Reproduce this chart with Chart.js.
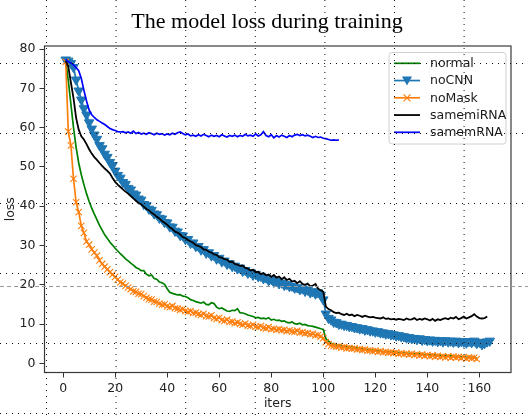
<!DOCTYPE html>
<html>
<head>
<meta charset="utf-8">
<script src="https://cdn.jsdelivr.net/npm/chart.js@4.4.0/dist/chart.umd.min.js"></script>
<style>
html,body{margin:0;padding:0;background:#fff;}
#wrap{width:528px;height:415px;}
</style>
</head>
<body>
<div id="wrap"><canvas id="lossChart" width="528" height="415"></canvas></div>
<script>
// loss per iteration, first value is iteration 1
const normalLoss = [77,72,66,60,55,51,48,45.5,43.2,41.2,39.5,38,36.6,35.1,33.9,32.7,31.8,30.8,30.1,29.3,
  28.6,27.9,27.3,26.6,26.1,25.5,25.0,24.4,24.1,23.6,23.6,22.7,22.3,22.5,21.6,21.4,20.7,20.5,20.1,19.0,
  18.1,17.8,17.6,17.4,17.5,17.1,17.0,16.7,16.2,16.0,15.7,15.5,15.3,15.6,15.0,14.9,15.4,15.2,14.3,13.9,
  14.1,13.7,13.3,13.2,13.5,13.4,13.9,12.9,12.8,12.6,12.3,12.1,11.9,11.6,11.7,11.4,11.5,11.3,11.6,11.0,
  11.2,10.9,11.0,10.7,10.8,10.4,10.3,10.5,10.1,10.0,10.2,9.8,9.9,9.6,9.5,9.4,9.2,9.0,8.8,8.6,
  6.3,5.6,5.1,4.9,4.7,4.6,4.5,4.4,4.3,4.2,4.3,4.0,3.9,3.8,3.7,3.6,3.5,3.5,3.3,3.3,
  3.2,3.1,3.0,3.0,2.9,2.8,2.9,2.7,2.7,2.6,2.6,2.5,2.5,2.4,2.4,2.3,2.4,2.3,2.2,2.2,
  2.1,2.2,2.1,2.0,2.0,1.9,2.0,1.8,1.9,1.8,1.7,1.8,1.6,1.7,1.5,1.6,1.5,1.4,1.3];

const noCNNLoss = [77.3,77.0,76.4,75.4,72.2,69.4,67.1,64.9,63.3,61.3,59.7,58.2,57.1,55.5,54.7,53.3,52.5,51.2,50.4,49.0,
  47.9,47.2,46.1,45.6,44.6,44.2,43.2,42.9,41.9,41.6,40.5,40.2,39.3,39.0,38.1,37.9,37.0,36.8,35.9,35.8,
  34.8,34.7,33.7,33.5,32.6,32.5,31.6,31.6,30.6,30.7,29.8,29.8,28.9,29.0,28.1,28.2,27.4,27.5,26.6,26.8,
  25.9,26.1,25.3,25.4,24.7,24.8,24.1,24.3,23.5,23.7,23.0,23.2,22.5,22.7,22.1,22.2,21.6,21.8,21.1,21.4,
  20.7,20.9,20.3,20.5,19.9,20.1,19.6,19.7,19.2,19.3,18.8,19.0,18.4,18.7,18.0,18.3,17.7,18.0,17.4,16.2,
  12.6,11.5,11.1,10.5,10.4,10.0,10.0,9.7,9.7,9.4,9.4,9.1,9.1,8.8,8.9,8.5,8.6,8.3,8.3,8.0,
  8.1,7.8,7.8,7.5,7.6,7.3,7.3,7.0,7.1,6.8,6.8,6.5,6.6,6.3,6.4,6.1,6.3,5.9,6.1,5.8,
  6.0,5.7,5.9,5.6,5.8,5.5,5.8,5.5,5.7,5.4,5.7,5.3,5.6,5.4,5.2,5.6,5.3,5.7,5.1,5.4,
  4.8,5.1,5.5,5.7];

const noMaskLoss = [76.8,59.0,55.5,47.0,41.0,38.5,35.0,33.2,31.0,30.2,29.0,28.2,27.4,26.2,25.3,24.6,23.9,23.2,22.6,22.0,
  21.3,20.6,20.3,19.7,19.3,18.9,18.3,18.2,17.7,17.6,17.1,16.7,16.3,16.2,15.7,15.6,15.2,14.9,15.0,14.5,
  14.3,14.6,14.0,13.9,13.6,13.8,13.3,13.1,13.3,12.8,12.9,12.5,12.3,12.6,12.0,11.9,12.2,11.5,11.3,11.6,
  11.0,10.8,11.1,10.5,10.6,10.2,10.4,10.0,9.8,10.1,9.6,9.5,9.8,9.3,9.2,9.5,9.0,8.9,9.2,8.7,
  8.8,8.5,8.7,8.4,8.5,8.2,8.4,8.1,8.0,8.3,7.8,7.9,7.6,7.7,7.4,7.5,7.1,7.2,6.8,6.4,
  5.4,4.9,4.5,4.4,4.2,4.3,4.0,4.1,3.8,3.9,3.7,3.8,3.5,3.6,3.4,3.5,3.2,3.3,3.1,3.2,
  2.9,3.1,2.8,2.9,2.7,2.8,2.6,2.7,2.4,2.6,2.3,2.5,2.2,2.4,2.1,2.3,2.0,2.2,1.9,2.1,
  1.8,2.0,1.7,1.9,1.6,1.8,1.5,1.8,1.4,1.7,1.5,1.6,1.3,1.6,1.2,1.5,1.3,1.4,1.1];

const samemiRNALoss = [77.0,75.5,71.5,67.5,62.5,59.5,57.8,57.0,55.8,54.5,53.4,52.5,51.8,51.0,50.3,49.6,49.0,48.3,47.2,46.2,
  45.5,44.9,44.3,43.7,43.2,42.6,42.0,41.4,40.8,40.5,39.9,39.3,39.0,38.3,37.9,37.3,36.9,36.2,35.8,35.3,
  34.6,34.2,33.5,33.3,32.8,32.1,31.9,31.4,31.0,30.7,30.1,29.9,29.6,29.0,28.9,28.4,28.2,27.7,27.6,27.0,
  26.9,26.5,26.4,25.8,25.9,25.3,25.1,24.8,24.9,24.3,24.1,23.6,23.8,23.2,23.3,22.7,23.0,22.4,22.6,22.0,
  22.5,21.8,22.1,21.4,21.9,21.2,21.5,20.8,21.0,20.4,20.9,20.2,20.0,20.3,19.6,19.8,20.2,19.0,18.6,18.2,
  14.4,13.8,13.5,13.0,12.8,12.9,12.5,12.3,12.6,12.2,12.4,12.0,12.3,12.1,11.8,12.1,11.9,11.7,11.8,11.6,
  11.5,11.4,11.7,11.3,11.4,11.2,11.3,11.1,11.3,11.2,11.0,11.4,11.1,11.2,11.5,11.0,11.3,11.1,11.4,11.2,
  10.9,11.3,10.8,11.2,11.0,11.3,11.5,11.2,11.6,11.4,11.8,11.2,11.5,11.9,11.4,11.7,12.0,12.5,11.9,11.5,
  11.4,11.5,11.9];

const samemRNALoss = [77.4,76.8,76.5,76.0,75.3,74.5,72.5,69.5,66.8,64.5,63.3,62.6,62.0,61.6,61.2,60.8,60.3,59.8,59.5,59.3,
  59.0,58.9,59.0,58.7,58.9,58.6,59.1,58.5,58.8,58.4,58.6,58.3,58.7,58.5,58.2,58.6,58.3,58.5,58.1,58.4,
  58.2,58.6,58.3,58.7,58.9,58.5,58.2,58.4,57.9,58.1,57.8,58.2,57.9,58.3,58.0,57.7,58.1,57.8,58.0,57.7,
  58.2,57.9,57.6,58.0,57.8,58.1,57.7,58.0,57.8,58.3,57.9,58.1,57.8,58.4,57.9,58.2,59.0,58.0,57.7,58.2,
  57.4,58.0,57.6,58.1,57.8,57.5,58.0,57.7,58.1,58.3,58.0,58.2,57.9,58.1,57.8,57.5,57.8,57.5,57.6,57.3,
  57.2,57.0,56.8,56.9,56.8,56.9];

const xTicks = [0, 20, 40, 60, 80, 100, 120, 140, 160];
const yTicks = [0, 10, 20, 30, 40, 50, 60, 70, 80];
const chartTitle = 'The model loss during training';

function toPoints(arr) {
  return arr.map((v, i) => ({ x: i + 1, y: v }));
}

const tickFont = { family: 'DejaVu Sans', size: 12.5 };

// serif title, centred a little right of the canvas middle like the original
const serifTitle = {
  id: 'serifTitle',
  afterDraw(chart) {
    const ctx = chart.ctx;
    ctx.save();
    ctx.font = '22px "Liberation Serif"';
    ctx.fillStyle = '#000';
    ctx.textAlign = 'center';
    ctx.textBaseline = 'alphabetic';
    ctx.fillText(chartTitle, 267, 27.5);
    ctx.restore();
  }
};

// plot frame (all four spines)
const frame = {
  id: 'frame',
  afterDatasetsDraw(chart) {
    const { ctx, chartArea: { left, top, right, bottom } } = chart;
    ctx.save();
    ctx.strokeStyle = '#3a3a3a';
    ctx.lineWidth = 1.2;
    ctx.strokeRect(left, top, right - left, bottom - top);
    ctx.restore();
  }
};

// legend box like matplotlib's, upper right
const lossLegend = {
  id: 'lossLegend',
  afterDatasetsDraw(chart) {
    const ctx = chart.ctx;
    const bx = 389, by = 52.5, bw = 117, bh = 91.5, r = 3;
    ctx.save();
    ctx.beginPath();
    ctx.moveTo(bx + r, by);
    ctx.arcTo(bx + bw, by, bx + bw, by + bh, r);
    ctx.arcTo(bx + bw, by + bh, bx, by + bh, r);
    ctx.arcTo(bx, by + bh, bx, by, r);
    ctx.arcTo(bx, by, bx + bw, by, r);
    ctx.closePath();
    ctx.fillStyle = 'rgba(255,255,255,0.85)';
    ctx.fill();
    ctx.strokeStyle = '#d0d0d0';
    ctx.lineWidth = 1;
    ctx.stroke();

    chart.data.datasets.forEach((ds, i) => {
      const y = 63.3 + i * 17.25;
      ctx.strokeStyle = ds.borderColor;
      ctx.lineWidth = ds.borderWidth;
      ctx.beginPath();
      ctx.moveTo(394, y);
      ctx.lineTo(420, y);
      ctx.stroke();
      const mx = 407;
      if (ds.pointStyle === 'triangle') {
        ctx.fillStyle = ds.borderColor;
        ctx.beginPath();
        ctx.moveTo(mx - 5, y - 4);
        ctx.lineTo(mx + 5, y - 4);
        ctx.lineTo(mx, y + 5);
        ctx.closePath();
        ctx.fill();
      } else if (ds.pointStyle === 'crossRot') {
        ctx.lineWidth = 1.2;
        ctx.beginPath();
        ctx.moveTo(mx - 3.5, y - 3.5); ctx.lineTo(mx + 3.5, y + 3.5);
        ctx.moveTo(mx + 3.5, y - 3.5); ctx.lineTo(mx - 3.5, y + 3.5);
        ctx.stroke();
      }
      ctx.fillStyle = '#1a1a1a';
      ctx.font = '12.5px "DejaVu Sans"';
      ctx.textBaseline = 'middle';
      ctx.textAlign = 'left';
      ctx.fillText(ds.label, 430, y + 0.5);
    });
    ctx.restore();
  }
};

// dotted page grid and dashed guide that sit over the picture
const overlay = {
  id: 'overlay',
  afterDraw(chart) {
    const ctx = chart.ctx;
    const W = chart.width, H = chart.height;
    ctx.save();
    ctx.strokeStyle = '#111';
    ctx.lineWidth = 1;
    ctx.setLineDash([1, 5]);
    [46.5, 116.1, 185.7, 255.3, 324.9, 394.5, 464.1].forEach(x => {
      ctx.beginPath(); ctx.moveTo(x, 0); ctx.lineTo(x, H); ctx.stroke();
    });
    [63.5, 133.5, 203.5, 273.5, 343.5, 413.5].forEach(y => {
      ctx.beginPath(); ctx.moveTo(0, y); ctx.lineTo(W, y); ctx.stroke();
    });
    ctx.strokeStyle = '#9a9a9a';
    ctx.setLineDash([4, 3]);
    ctx.beginPath(); ctx.moveTo(0, 286.5); ctx.lineTo(W, 286.5); ctx.stroke();
    ctx.restore();
  }
};

new Chart(document.getElementById('lossChart'), {
  type: 'line',
  data: {
    datasets: [
      { label: 'normal', data: toPoints(normalLoss), borderColor: '#008000', borderWidth: 1.7,
        pointRadius: 0, pointStyle: false, order: 5 },
      { label: 'noCNN', data: toPoints(noCNNLoss), borderColor: '#1f77b4', borderWidth: 1.7,
        pointStyle: 'triangle', rotation: 180, pointRadius: 5.5, pointBackgroundColor: '#1f77b4',
        pointBorderColor: '#1f77b4', pointBorderWidth: 1, order: 4 },
      { label: 'noMask', data: toPoints(noMaskLoss), borderColor: '#ff7f0e', borderWidth: 1.7,
        pointStyle: 'crossRot', pointRadius: 4.5, pointBorderColor: '#ff7f0e', pointBorderWidth: 1.1, order: 3 },
      { label: 'samemiRNA', data: toPoints(samemiRNALoss), borderColor: '#000000', borderWidth: 1.8,
        pointRadius: 0, pointStyle: false, order: 2 },
      { label: 'samemRNA', data: toPoints(samemRNALoss), borderColor: '#0000ff', borderWidth: 1.7,
        pointRadius: 0, pointStyle: false, order: 1 }
    ]
  },
  options: {
    responsive: false,
    animation: false,
    events: [],
    layout: { padding: { left: 0, right: 17, top: 46, bottom: 0 } },
    elements: { line: { tension: 0 } },
    plugins: {
      legend: { display: false },
      tooltip: { enabled: false },
      title: { display: false }
    },
    scales: {
      x: {
        type: 'linear',
        min: -7.15,
        max: 172.15,
        afterBuildTicks: s => { s.ticks = xTicks.map(v => ({ value: v })); },
        afterFit: s => { s.height = 42.5; },
        ticks: { font: tickFont, color: '#222', padding: 4, maxRotation: 0, autoSkip: false },
        grid: { drawOnChartArea: false, drawTicks: true, tickLength: 5, color: '#333' },
        border: { display: false },
        title: { display: true, text: 'iters', color: '#222', font: { family: 'DejaVu Sans', size: 12.5 },
          padding: { top: 0, bottom: 4 } }
      },
      y: {
        type: 'linear',
        min: -2.35,
        max: 80.8,
        afterBuildTicks: s => { s.ticks = yTicks.map(v => ({ value: v })); },
        afterFit: s => { s.width = 44.5; },
        ticks: { font: tickFont, color: '#222', padding: 4, autoSkip: false },
        grid: { drawOnChartArea: false, drawTicks: true, tickLength: 5, color: '#333' },
        border: { display: false },
        title: { display: true, text: 'loss', color: '#222', font: { family: 'DejaVu Sans', size: 12.5 },
          padding: { top: 3, bottom: 0 } }
      }
    }
  },
  plugins: [frame, lossLegend, serifTitle, overlay]
});
</script>
</body>
</html>
